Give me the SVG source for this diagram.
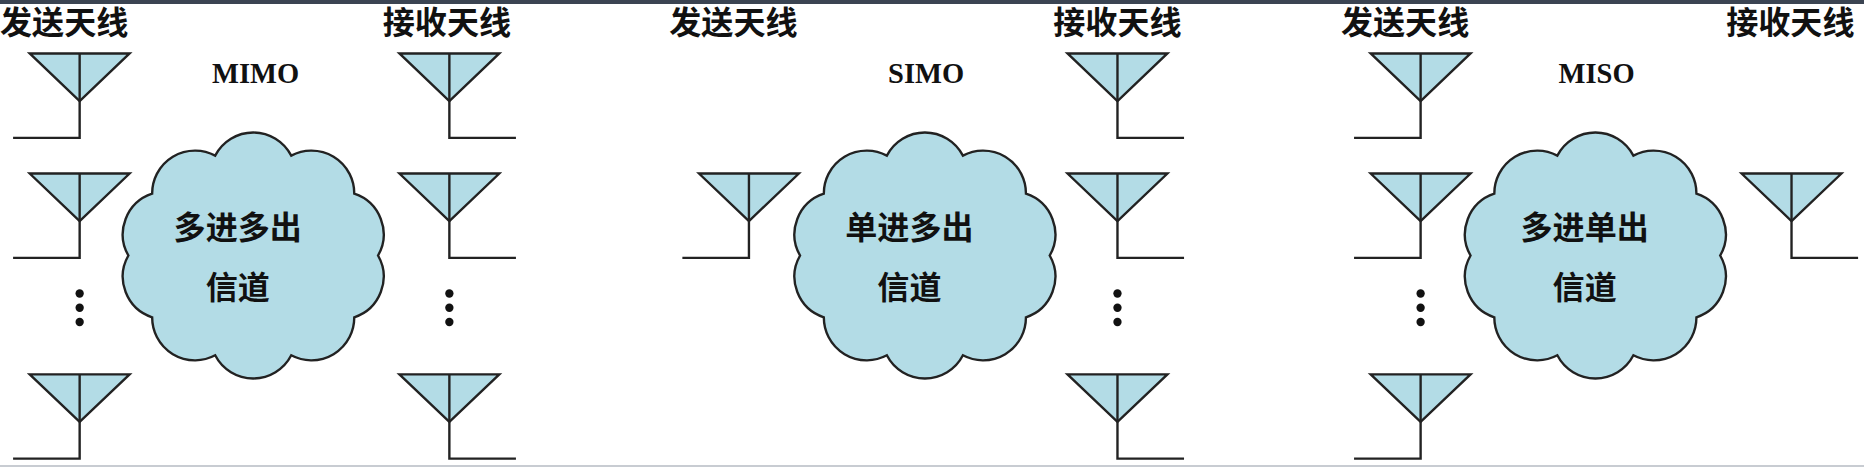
<svg xmlns="http://www.w3.org/2000/svg" xmlns:xlink="http://www.w3.org/1999/xlink" width="1864" height="467" viewBox="0 0 1864 467">
<style>
.ant{fill:#b3dce6;stroke:#222;stroke-width:2;stroke-linejoin:miter}
.ln{stroke:#222;stroke-width:2;fill:none}
.cloud{fill:#b3dce6;stroke:#222;stroke-width:2}
.hd{font-family:"Noto Sans CJK SC",sans-serif;font-weight:bold;font-size:27px;fill:#111}
.ct{font-family:"Noto Sans CJK SC",sans-serif;font-weight:bold;font-size:27px;fill:#111;text-anchor:middle}
.tt{font-family:"Liberation Serif",serif;font-weight:bold;font-size:24px;fill:#111;text-anchor:middle}
.dot{fill:#111}
</style>
<defs>
<g id="antT"><polygon class="ant" points="-42,0 42,0 0,40"/><path class="ln" d="M0,0V71H-56"/></g>
<g id="antR"><polygon class="ant" points="-42,0 42,0 0,40"/><path class="ln" d="M0,0V71H56"/></g>
<g id="dots"><circle class="dot" cx="0" cy="0" r="3.5"/><circle class="dot" cx="0" cy="12" r="3.5"/><circle class="dot" cx="0" cy="24" r="3.5"/></g>
<path id="cl" class="cloud" d="M105,0 A36,36 0 0 1 85,52 A36,36 0 0 1 32,84 A36,36 0 0 1 -32,84 A36,36 0 0 1 -85,52 A36,36 0 0 1 -105,0 A36,36 0 0 1 -85,-52 A36,36 0 0 1 -32,-84 A36,36 0 0 1 32,-84 A36,36 0 0 1 85,-52 A36,36 0 0 1 105,0 Z"/>
</defs>
<rect width="1864" height="467" fill="#fff"/>
<rect width="1864" height="4" fill="#3b4452"/>
<rect y="465" width="1864" height="2" fill="#c8ccd2"/>
<g transform="scale(1.1888,1.1883)">
<g id="connectors"/>
<g id="mimo">
<text class="hd" x="0" y="29">发送天线</text>
<text class="hd" x="322" y="29">接收天线</text>
<text class="tt" x="215" y="70">MIMO</text>
<use xlink:href="#antT" transform="translate(67,45)"/>
<use xlink:href="#antT" transform="translate(67,146)"/>
<use xlink:href="#dots" transform="translate(67,247)"/>
<use xlink:href="#antT" transform="translate(67,315)"/>
<use xlink:href="#antR" transform="translate(378,45)"/>
<use xlink:href="#antR" transform="translate(378,146)"/>
<use xlink:href="#dots" transform="translate(378,247)"/>
<use xlink:href="#antR" transform="translate(378,315)"/>
<use xlink:href="#cl" transform="translate(213,215)"/>
<text class="ct" x="200" y="201">多进多出</text>
<text class="ct" x="200" y="252">信道</text>
</g>
<g id="simo">
<text class="hd" x="563" y="29">发送天线</text>
<text class="hd" x="886" y="29">接收天线</text>
<text class="tt" x="779" y="70">SIMO</text>
<use xlink:href="#antT" transform="translate(630,146)"/>
<use xlink:href="#antR" transform="translate(940,45)"/>
<use xlink:href="#antR" transform="translate(940,146)"/>
<use xlink:href="#dots" transform="translate(940,247)"/>
<use xlink:href="#antR" transform="translate(940,315)"/>
<use xlink:href="#cl" transform="translate(778,215)"/>
<text class="ct" x="765" y="201">单进多出</text>
<text class="ct" x="765" y="252">信道</text>
</g>
<g id="miso">
<text class="hd" x="1128" y="29">发送天线</text>
<text class="hd" x="1452" y="29">接收天线</text>
<text class="tt" x="1343" y="70">MISO</text>
<use xlink:href="#antT" transform="translate(1195,45)"/>
<use xlink:href="#antT" transform="translate(1195,146)"/>
<use xlink:href="#dots" transform="translate(1195,247)"/>
<use xlink:href="#antT" transform="translate(1195,315)"/>
<use xlink:href="#antR" transform="translate(1507,146)"/>
<use xlink:href="#cl" transform="translate(1342,215)"/>
<text class="ct" x="1333" y="201">多进单出</text>
<text class="ct" x="1333" y="252">信道</text>
</g>
</g>
</svg>
